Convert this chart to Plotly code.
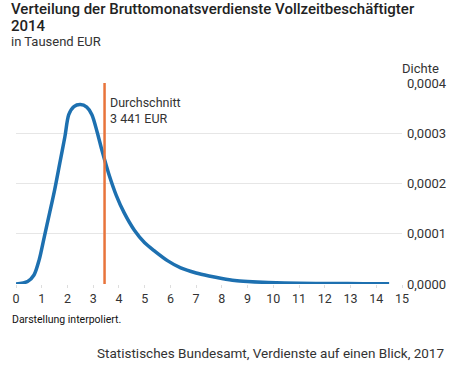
import plotly.graph_objects as go

# Data (income in thousand EUR, density)
income = [0, 0.45, 0.7, 0.9, 1.1, 1.3, 1.5, 1.7, 1.9, 2.05, 2.25, 2.5, 2.75, 2.95,
          3.15, 3.35, 3.6, 3.9, 4.2, 4.6, 5.0, 5.4, 5.9, 6.4, 7.0, 7.5, 8.0, 8.5,
          9.0, 9.8, 11.0, 12.3, 13.5, 14.5]
density_e4 = [0, 0.05, 0.18, 0.48, 0.94, 1.4, 1.87, 2.4, 2.93, 3.37, 3.53, 3.57, 3.52, 3.37,
              3.03, 2.64, 2.2, 1.76, 1.42, 1.07, 0.82, 0.65, 0.46, 0.32, 0.22, 0.16, 0.11, 0.07,
              0.05, 0.03, 0.015, 0.01, 0.007, 0.005]
density = [v * 1e-4 for v in density_e4]
mean_value = 3.441
mean_label = "Durchschnitt<br>3 441 EUR"
y_ticks = [0, 0.0001, 0.0002, 0.0003, 0.0004]
x_ticks = list(range(0, 16))

FONT = "Roboto, Open Sans, sans-serif"
TXT = "#333333"


def px_x(p):  # reference pixel -> paper x
    return (p - 13) / 389


def px_y(p):  # reference pixel -> paper y
    return (284 - p) / 201


fig = go.Figure()
fig.add_trace(go.Scatter(
    x=income, y=density, mode="lines",
    line=dict(color="#1d70b0", width=3.5, shape="spline", smoothing=0.8),
    hoverinfo="skip", cliponaxis=False,
))
fig.add_trace(go.Scatter(
    x=[mean_value, mean_value], y=[0, 0.0004], mode="lines",
    line=dict(color="#e8743b", width=2.5), hoverinfo="skip", cliponaxis=False,
))

fig.update_layout(
    width=474, height=365,
    margin=dict(l=13, r=72, t=83, b=81),
    paper_bgcolor="white", plot_bgcolor="white",
    showlegend=False,
    separators=", ",
    font=dict(family=FONT, color=TXT, size=12),
    xaxis=dict(range=[0, 15], tickvals=x_ticks, showgrid=False, zeroline=False,
               showline=False, ticks="outside", ticklen=3, tickcolor="#dddddd",
               tickfont=dict(size=12.5, color=TXT)),
    yaxis=dict(range=[0, 0.0004], tickvals=y_ticks, tickformat=".4f", side="right",
               showgrid=True, gridcolor="#e6e6e6", gridwidth=1, zeroline=False,
               showline=False, ticks="", ticklabelstandoff=4,
               tickfont=dict(size=13, color=TXT)),
    annotations=[
        dict(text="Verteilung der Bruttomonatsverdienste Vollzeitbeschäftigter",
             xref="paper", yref="paper", x=px_x(6), y=px_y(9.5),
             xanchor="left", yanchor="middle", align="left", showarrow=False,
             font=dict(size=15, color="#222222", family=FONT, weight=500)),
        dict(text="2014",
             xref="paper", yref="paper", x=px_x(6), y=px_y(25.5),
             xanchor="left", yanchor="middle", align="left", showarrow=False,
             font=dict(size=15, color="#222222", family=FONT, weight=500)),
        dict(text="in Tausend EUR", xref="paper", yref="paper",
             x=px_x(6), y=px_y(42), xanchor="left", yanchor="middle",
             showarrow=False, font=dict(size=13, color=TXT)),
        dict(text="Dichte", xref="paper", yref="paper",
             x=px_x(441), y=px_y(68), xanchor="right", yanchor="middle",
             showarrow=False, font=dict(size=13, color=TXT)),
        dict(text=mean_label, x=mean_value, y=0.000346, xref="x", yref="y",
             xanchor="left", yanchor="middle", align="left", xshift=3,
             showarrow=False, font=dict(size=12.5, color=TXT)),
        dict(text="Darstellung interpoliert.", xref="paper", yref="paper",
             x=px_x(7), y=px_y(319), xanchor="left", yanchor="middle",
             showarrow=False, font=dict(size=10.5, color="#111111")),
        dict(text="Statistisches Bundesamt, Verdienste auf einen Blick, 2017",
             xref="paper", yref="paper", x=px_x(446), y=px_y(353),
             xanchor="right", yanchor="middle", showarrow=False,
             font=dict(size=13.5, color=TXT)),
    ],
)

fig.write_html("out.html", config={"displayModeBar": False},
               post_script="document.body.style.margin='0';")
